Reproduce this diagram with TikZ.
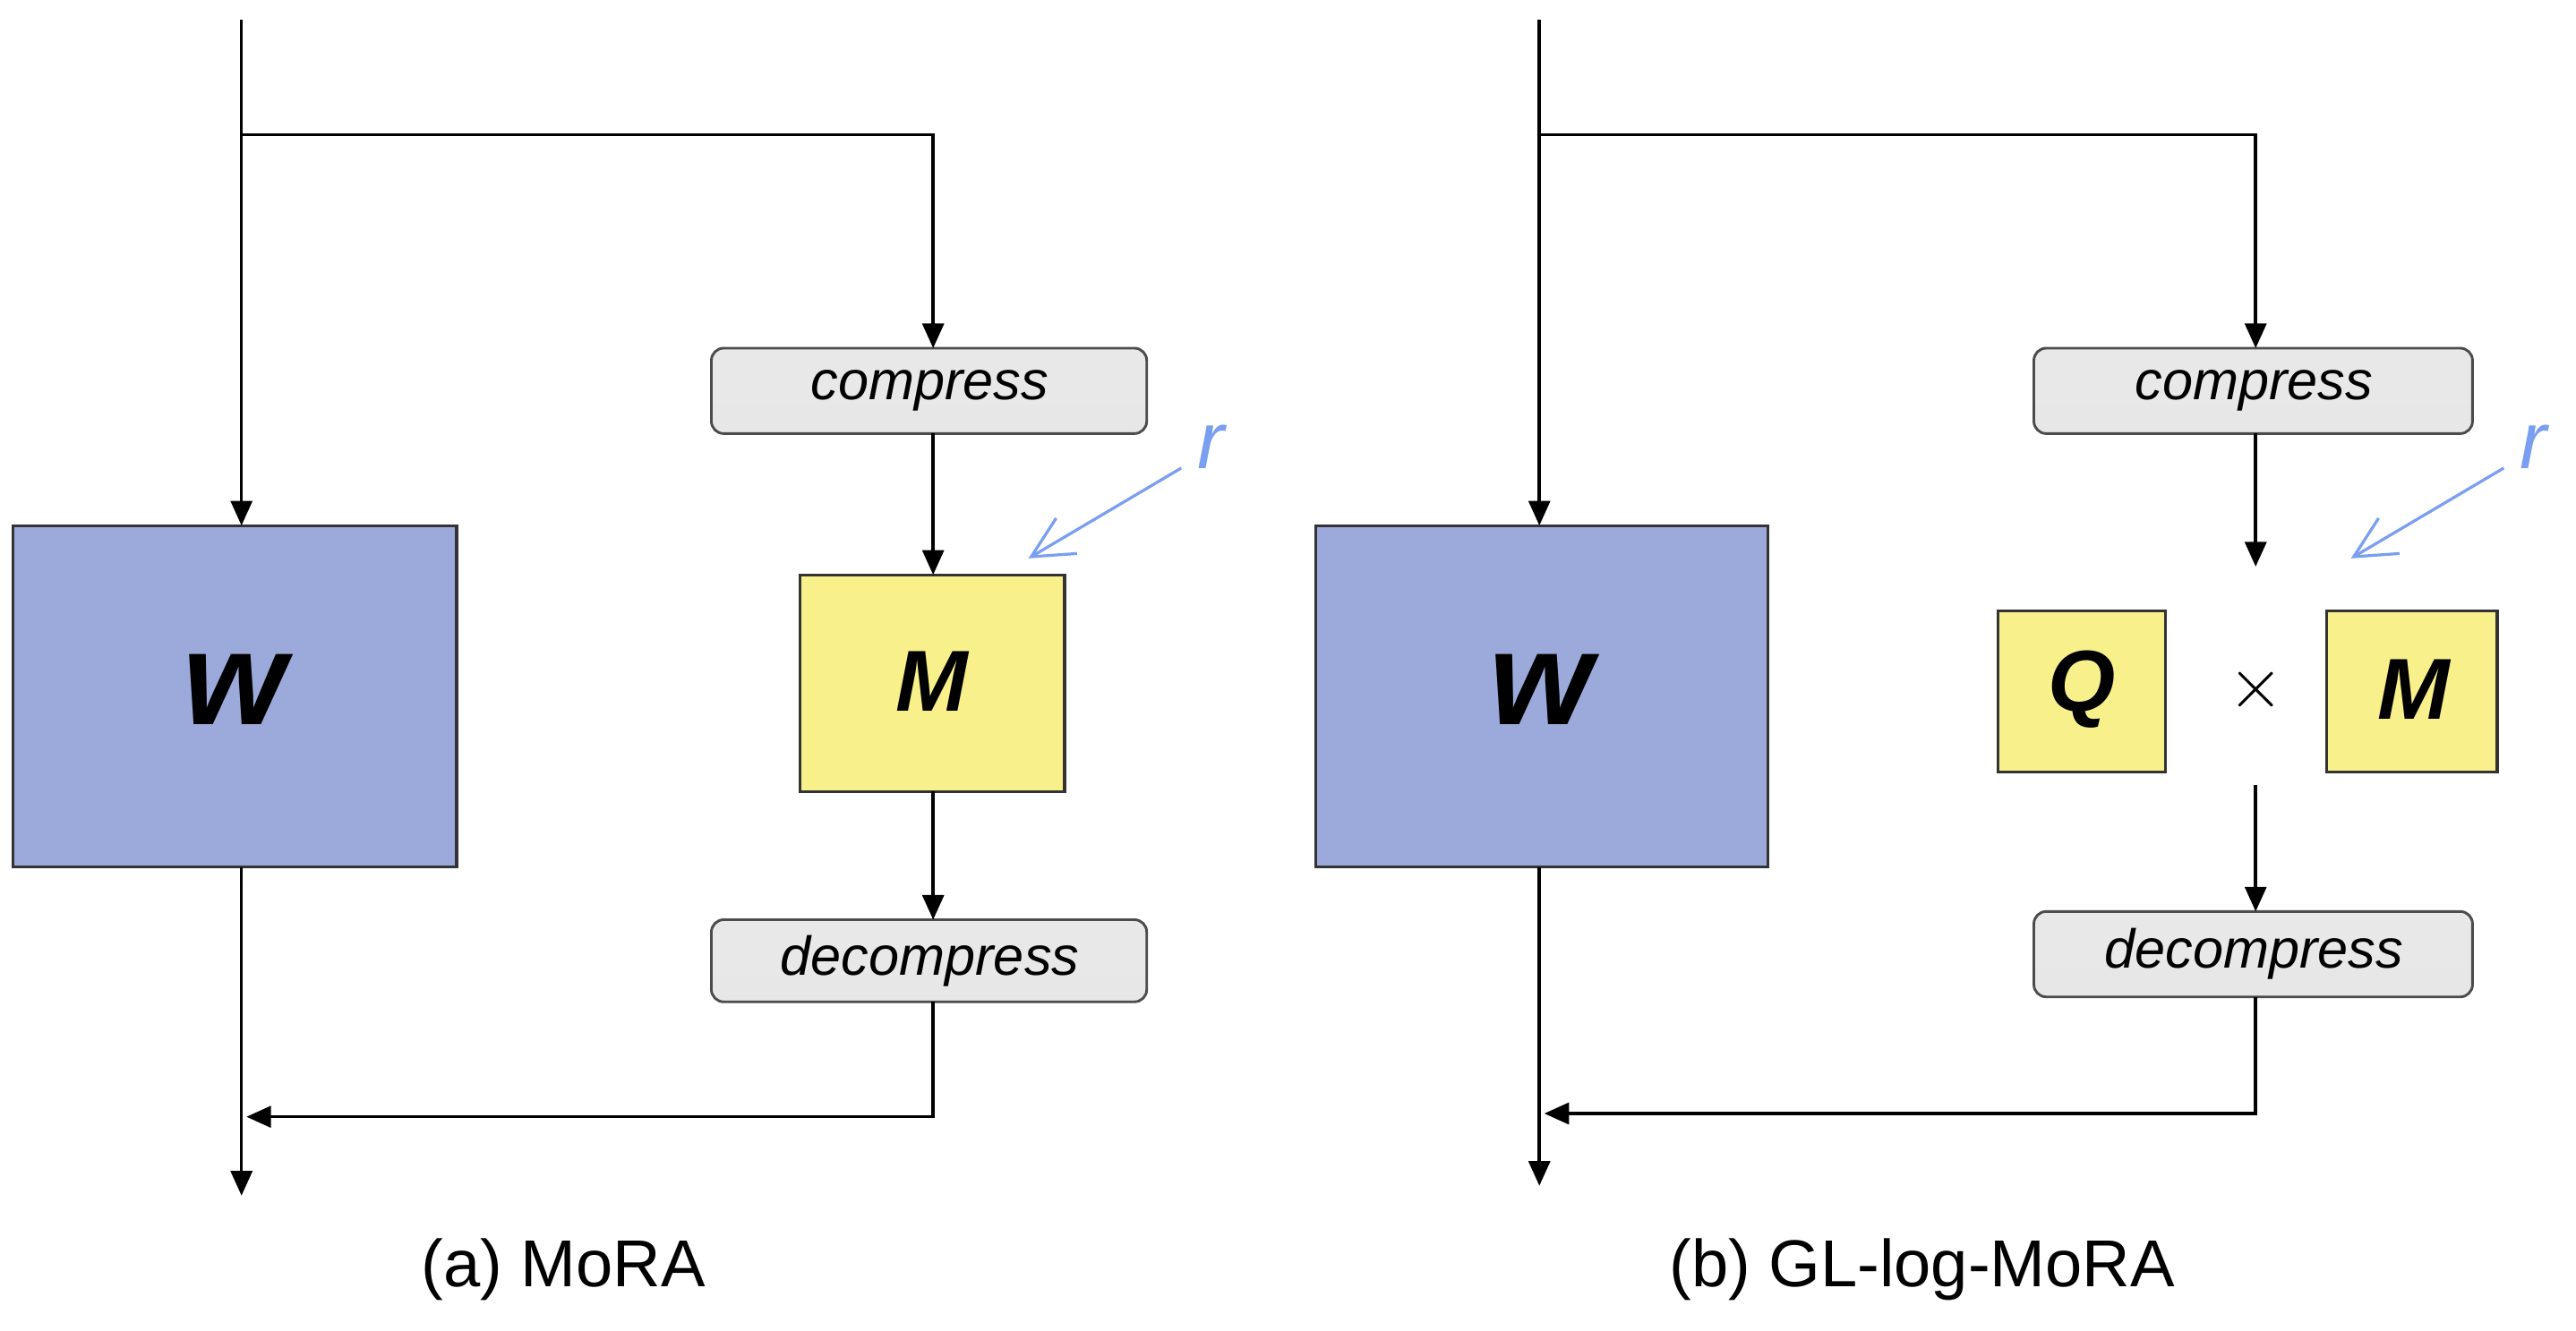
\documentclass[tikz,border=0pt]{standalone}
\usepackage{fontspec}
\setmainfont{Liberation Sans}
\usetikzlibrary{arrows.meta}
\definecolor{wblue}{HTML}{9BAADA}
\definecolor{myyel}{HTML}{F8F08A}
\definecolor{gbox}{HTML}{D2D2D2}
\definecolor{rblue}{HTML}{7A9EF0}
\begin{document}
\begin{tikzpicture}[x=0.02cm,y=-0.02cm,
  ar/.style={-{Triangle[width=0.26cm,length=0.3cm]},line width=1.1pt},
  wbox/.style={draw=black!80,line width=1pt,fill=wblue},
  ybox/.style={draw=black!80,line width=1pt,fill=myyel},
  gb/.style={draw=black!70,line width=0.9pt,rounded corners=0.15cm,top color=gbox!50,bottom color=gbox!110!black},
  gt/.style={font=\fontsize{19}{22}\selectfont\itshape},
  bt/.style={font=\fontsize{30}{34}\selectfont\bfseries\itshape},
  wt/.style={font=\fontsize{46}{50}\selectfont\bfseries\itshape},
  rt/.style={text=rblue,font=\fontsize{28}{30}\selectfont\itshape},
  rar/.style={rblue,line width=1pt,-{Straight Barb[length=0.5cm,width=0.5cm]}},
  captxt/.style={font=\fontsize{23}{27}\selectfont}]
\useasboundingbox (0,0) rectangle (1568,810);
% ---- panel a
\draw[wbox] (8,320) rectangle (278,528);
\node[wt] (wa) at (143,420) {w};
\coordinate (wat) at (147,320);
\coordinate (wab) at (147,528);
\coordinate (ta) at (147,12);
\coordinate (ba) at (147,728);
\coordinate (bra) at (147,82);
\draw[gb] (433,212) rectangle (698,264);
\node[gt] (ca) at (566,238) {compress};
\draw[ybox] (487,350) rectangle (648,482);
\node[bt] (ma) at (567,415) {M};
\draw[gb] (433,560) rectangle (698,610);
\node[gt] (da) at (566,585) {decompress};
\draw[ar] (ta) -- (wat);
\draw[ar] (wab) -- (ba);
\draw[ar] (bra) -| (568,212);
\draw[ar] (568,264) -- (568,350);
\draw[ar] (568,482) -- (568,560);
\draw[ar] (568,610) |- (150,680);
\node[rt] (ra) at (737,272) {r};
\draw[rar] (719,285) -- (626,340);
\node[captxt] (la) at (343,773) {(a) MoRA};
% ---- panel b
\draw[wbox] (801,320) rectangle (1076,528);
\node[wt] (wb) at (938,420) {w};
\draw[gb] (1238,212) rectangle (1505,264);
\node[gt] (cb) at (1372,238) {compress};
\draw[ybox] (1216,372) rectangle (1318,470);
\node[bt] (qb) at (1267,420) {Q};
\node[font=\fontsize{30}{34}\selectfont] (xb) at (1373,420) {$\times$};
\draw[ybox] (1416,372) rectangle (1520,470);
\node[bt] (mb) at (1469,420) {M};
\draw[gb] (1238,555) rectangle (1505,607);
\node[gt] (db) at (1372,581) {decompress};
\draw[ar] (937,12) -- (937,320);
\draw[ar] (937,528) -- (937,722);
\draw[ar] (937,82) -| (1373,212);
\draw[ar] (1373,264) -- (1373,345);
\draw[ar] (1373,478) -- (1373,555);
\draw[ar] (1373,607) |- (940,678);
\node[rt] (rb) at (1542,272) {r};
\draw[rar] (1524,285) -- (1431,340);
\node[captxt] (lb) at (1170,773) {(b) GL-log-MoRA};
\end{tikzpicture}
\end{document}
